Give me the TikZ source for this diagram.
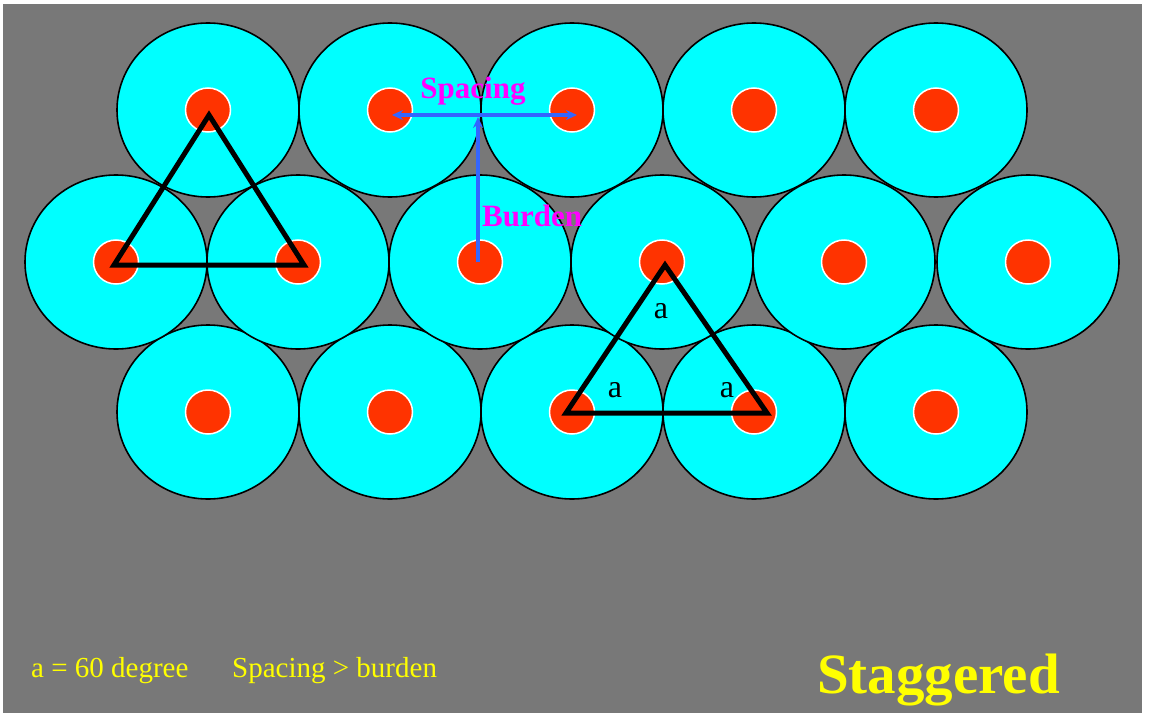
\documentclass[tikz,border=0pt]{standalone}
\usepackage{fontspec}
\setmainfont{Liberation Serif}
\usetikzlibrary{shapes.geometric,arrows.meta}
\definecolor{bg}{HTML}{787878}
\definecolor{cy}{HTML}{00FFFF}
\definecolor{rd}{HTML}{FF3300}
\definecolor{bl}{HTML}{3366FF}
\definecolor{mg}{HTML}{FF00FF}
\definecolor{yl}{HTML}{FFFF00}
\begin{document}
\begin{tikzpicture}[x=1pt,y=-1pt,
  hole/.style={ellipse,draw=black,line width=1.6pt,fill=cy,minimum width=182pt,minimum height=174pt,inner sep=0pt},
  dot/.style={ellipse,draw=white,line width=1.5pt,fill=rd,minimum width=45pt,minimum height=44pt,inner sep=0pt},
  tri/.style={draw=black,line width=5pt,line join=miter},
  arr/.style={draw=bl,line width=4pt},
  lab/.style={font=\fontsize{31}{31}\selectfont\bfseries,text=mg,inner sep=0pt},
  alab/.style={font=\fontsize{32}{32}\selectfont,text=black,inner sep=0pt,anchor=base},
  note/.style={font=\fontsize{29}{29}\selectfont,text=yl,inner sep=0pt,anchor=base west}]
\useasboundingbox (0,0) rectangle (1166,717);
\fill[white] (0,0) rectangle (1166,717);
\fill[bg] (3,4) rectangle (1142,713);
% rows of holes
\foreach \x [count=\i] in {208,390,572,754,936} {
  \node[hole] (t\i) at (\x,110) {};
  \node[hole] (b\i) at (\x,412) {};
}
\foreach \x [count=\i] in {116,298,480,662,844,1028} {
  \node[hole] (m\i) at (\x,262) {};
}
\foreach \i in {1,...,5} {
  \node[dot] (dt\i) at (t\i.center) {};
  \node[dot] (db\i) at (b\i.center) {};
}
\foreach \i in {1,...,6} {
  \node[dot] (dm\i) at (m\i.center) {};
}
% triangles
\coordinate (A1) at (209,115);
\coordinate (A2) at (114,265);
\coordinate (A3) at (304,265);
\draw[tri] (A1) -- (A2) -- (A3) -- cycle;
\coordinate (B1) at (665,265);
\coordinate (B2) at (566,413);
\coordinate (B3) at (767,413);
\draw[tri] (B1) -- (B2) -- (B3) -- cycle;
% arrows
\coordinate (sl) at (392,115);
\coordinate (sr) at (577,115);
\coordinate (bu) at (478,262);
\coordinate (bt) at (478,117);
\draw[arr,{Stealth[length=11pt,width=10pt]}-{Stealth[length=11pt,width=10pt]}] (sl) -- (sr);
\draw[arr,-{Stealth[length=11pt,width=10pt]}] (bu) -- (bt);
\node[lab,anchor=base] (spc) at (473,98) {Spacing};
\node[lab,anchor=base west] (brd) at (482,226) {Burden};
% angle labels
\node[alab] (a1) at (661,318) {a};
\node[alab] (a2) at (615,397) {a};
\node[alab] (a3) at (727,397) {a};
% notes
\node[note] (n1) at (31,677) {a = 60 degree};
\node[note] (n2) at (232,677) {Spacing > burden};
\node[font=\fontsize{57}{57}\selectfont\bfseries,text=yl,inner sep=0pt,anchor=base west] (st) at (817,693) {Staggered};
\end{tikzpicture}
\end{document}
